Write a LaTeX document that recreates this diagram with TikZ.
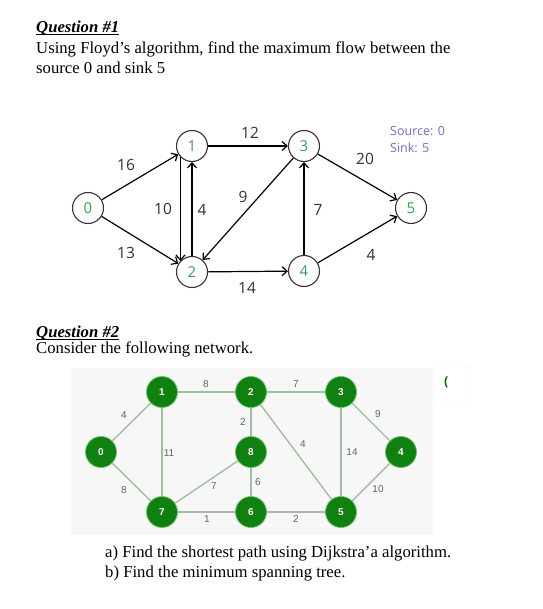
\documentclass[tikz,border=0pt]{standalone}
\usepackage{fontspec}
\setmainfont{Liberation Serif}
\newfontfamily\gfont{Open Sans}
\newfontfamily\afont{Liberation Sans}
\usetikzlibrary{arrows.meta}
\definecolor{nodegreen}{RGB}{60,160,80}
\definecolor{srccol}{RGB}{112,112,190}
\definecolor{darkgreen}{RGB}{16,128,16}
\definecolor{ringgreen}{RGB}{110,190,110}
\definecolor{edgegreen}{RGB}{160,190,160}
\definecolor{labgray}{RGB}{100,100,100}
\definecolor{panelgray}{RGB}{247,247,247}
\tikzset{
  qtext/.style={anchor=base west, inner sep=0pt, font=\fontsize{16.7}{19}\selectfont},
  uline/.style={line width=0.8pt},
  fnode/.style={circle, draw=black!80, line width=1.1pt, fill=white, minimum size=31pt, inner sep=0pt, text=nodegreen, font=\gfont\fontsize{15}{15}\selectfont},
  fedge/.style={line width=1.2pt, -{Straight Barb[length=5pt,width=9pt,line width=1.2pt]}},
  flab/.style={inner sep=0pt, text=black!80, font=\gfont\fontsize{15.5}{16}\selectfont},
  gnode/.style={circle, fill=darkgreen, draw=ringgreen, line width=0.8pt, minimum size=31pt, inner sep=0pt, text=white, font=\afont\bfseries\fontsize{10}{10}\selectfont},
  gedge/.style={draw=edgegreen, line width=1.4pt},
  glab/.style={inner sep=0pt, text=labgray, font=\afont\fontsize{10}{10}\selectfont}
}
\begin{document}
\begin{tikzpicture}[x=1pt,y=-1pt]
\useasboundingbox (0,0) rectangle (542,609);
\fill[white] (0,0) rectangle (542,609);

% Question 1 text
\node[qtext] (q1) at (36,33) {\textbf{\textit{Question \#1}}};
\draw[uline] ([yshift=-1.8pt]q1.base west) -- ([yshift=-1.8pt]q1.base east);
\node[qtext] (q1a) at (36,54) {Using Floyd’s algorithm, find the maximum flow between the};
\node[qtext] (q1b) at (36,74) {source 0 and sink 5};

% Graph 1
\node[fnode] (a0) at (88,208) {0};
\node[fnode] (a1) at (192,146) {1};
\node[fnode] (a2) at (192,272) {2};
\node[fnode] (a3) at (304,146) {3};
\node[fnode] (a4) at (304,271) {4};
\node[fnode] (a5) at (411,208) {5};

\draw[fedge] (a0) -- (a1);
\draw[fedge] (a0) -- (a2);
\draw[fedge] (a1) -- (a3);
\draw[fedge] (a1.224) -- (a2.136);
\draw[fedge] (a2) -- (a1);
\draw[fedge] (a3) -- (a2);
\draw[fedge] (a2) -- (a4);
\draw[fedge] (a4) -- (a3);
\draw[fedge] (a3) -- (a5);
\draw[fedge] (a4) -- (a5);

\node[flab] (l01) at (126,165) {16};
\node[flab] (l02) at (126,253) {13};
\node[flab] (l13) at (250,133) {12};
\node[flab] (l12) at (163,209) {10};
\node[flab] (l21) at (202,210) {4};
\node[flab] (l32) at (243,197) {9};
\node[flab] (l24) at (247,288) {14};
\node[flab] (l43) at (318,210) {7};
\node[flab] (l35) at (365,159) {20};
\node[flab] (l45) at (371,255) {4};

\node[anchor=west, inner sep=0pt, text=srccol, font=\gfont\fontsize{12.5}{13}\selectfont] (src) at (390,131) {Source: 0};
\node[anchor=west, inner sep=0pt, text=srccol, font=\gfont\fontsize{12.5}{13}\selectfont] (snk) at (390,148) {Sink: 5};

% Question 2 text
\node[qtext] (q2) at (36,337.5) {\textbf{\textit{Question \#2}}};
\draw[uline] ([yshift=-1.8pt]q2.base west) -- ([yshift=-1.8pt]q2.base east);
\node[qtext] (q2a) at (36,353) {Consider the following network.};

% Graph 2 panel
\fill[panelgray] (71,368) rectangle (433,535);
\draw[black!6, fill=white, rounded corners=2pt] (435,366) rectangle (470,405);
\node[inner sep=0pt, text=darkgreen!80!black, font=\afont\bfseries\fontsize{12}{12}\selectfont] (cut) at (446,382) {(};

\node[gnode] (b0) at (101,452) {0};
\node[gnode] (b1) at (162,392) {1};
\node[gnode] (b2) at (251,392) {2};
\node[gnode] (b3) at (341,392) {3};
\node[gnode] (b4) at (401,452) {4};
\node[gnode] (b5) at (341,512) {5};
\node[gnode] (b6) at (251,512) {6};
\node[gnode] (b7) at (162,512) {7};
\node[gnode] (b8) at (251,452) {8};

\draw[gedge] (b0) -- (b1);
\draw[gedge] (b0) -- (b7);
\draw[gedge] (b1) -- (b2);
\draw[gedge] (b1) -- (b7);
\draw[gedge] (b2) -- (b8);
\draw[gedge] (b2) -- (b3);
\draw[gedge] (b2) -- (b5);
\draw[gedge] (b8) -- (b7);
\draw[gedge] (b8) -- (b6);
\draw[gedge] (b7) -- (b6);
\draw[gedge] (b6) -- (b5);
\draw[gedge] (b3) -- (b5);
\draw[gedge] (b3) -- (b4);
\draw[gedge] (b4) -- (b5);

\node[glab] (m01) at (124,415) {4};
\node[glab] (m07) at (124,490) {8};
\node[glab] (m12) at (206,384) {8};
\node[glab] (m17) at (169,453) {11};
\node[glab] (m28) at (243,422) {2};
\node[glab] (m87) at (214,486) {7};
\node[glab] (m86) at (258,482) {6};
\node[glab] (m76) at (207,519) {1};
\node[glab] (m23) at (296,384) {7};
\node[glab] (m25) at (303,444) {4};
\node[glab] (m35) at (352,452) {14};
\node[glab] (m34) at (378,414) {9};
\node[glab] (m45) at (378,489) {10};
\node[glab] (m65) at (296,519) {2};

% bottom text
\node[qtext] (qa) at (105,557) {a) Find the shortest path using Dijkstra’a algorithm.};
\node[qtext] (qb) at (105,577) {b) Find the minimum spanning tree.};
\end{tikzpicture}
\end{document}
